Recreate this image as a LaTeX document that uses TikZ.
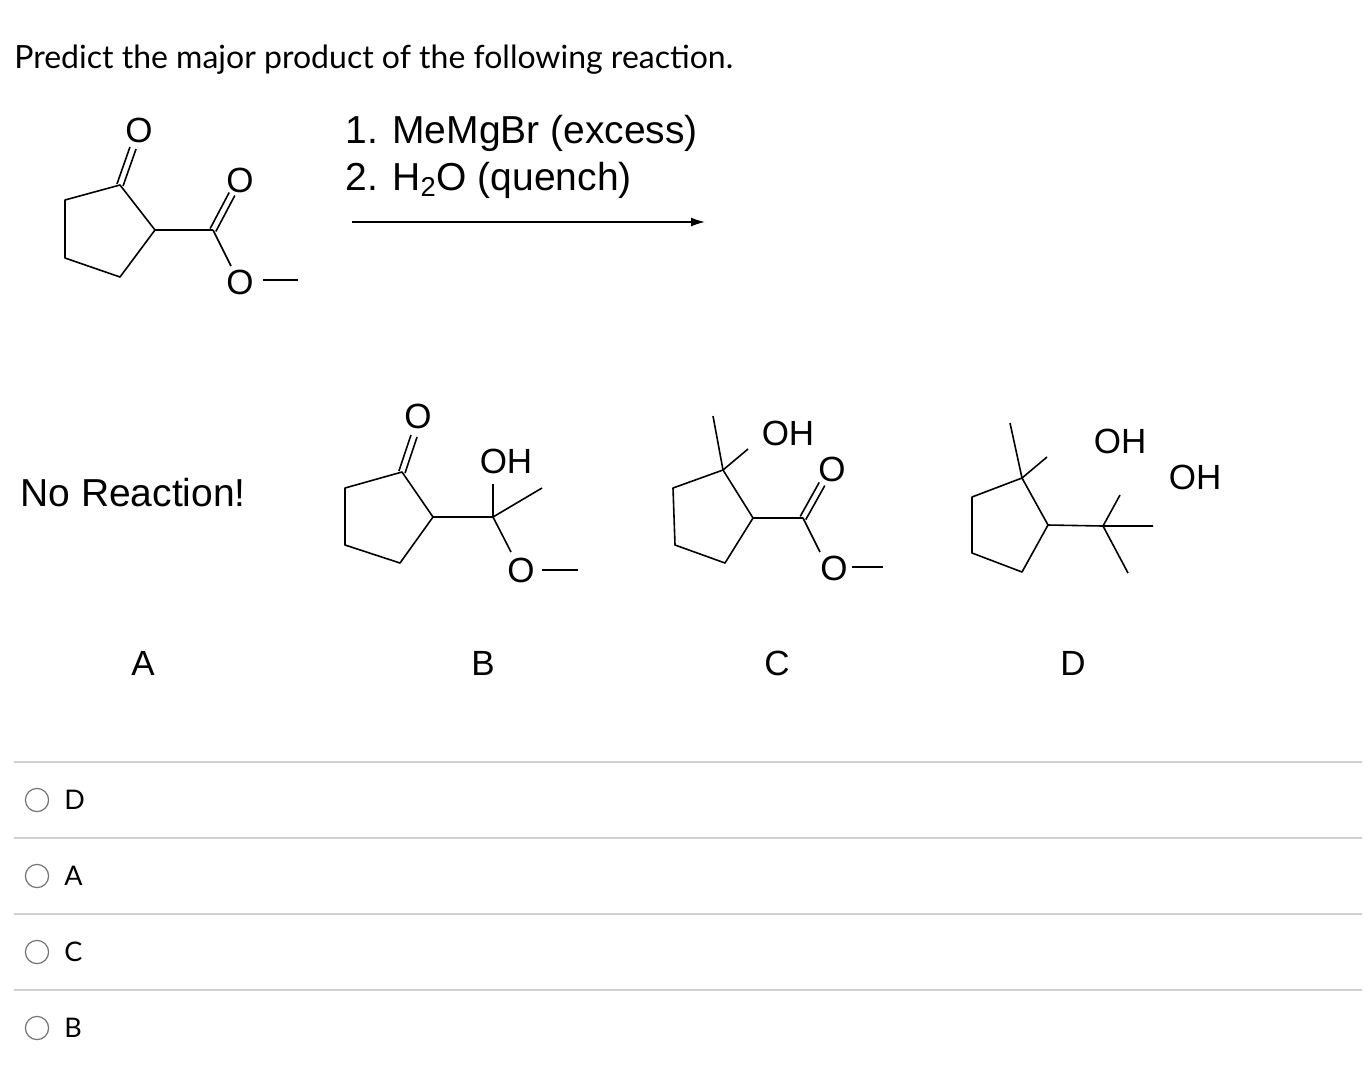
\documentclass[tikz,border=0pt]{standalone}
\usepackage{fontspec}
\setmainfont{Lato}
\newfontfamily\chem{Liberation Sans}
\usetikzlibrary{calc,arrows.meta}
\newcommand{\dbd}[2]{\draw ($(#1)!1.6pt!90:(#2)$) -- ($(#2)!1.6pt!-90:(#1)$); \draw ($(#1)!1.6pt!-90:(#2)$) -- ($(#2)!1.6pt!90:(#1)$);}
\tikzset{bond/.style={line width=0.8pt,line join=round},
 atom/.style={font=\chem\fontsize{17.5}{20}\selectfont,inner sep=0pt},
 lbl/.style={font=\chem\fontsize{19.5}{22}\selectfont,inner sep=0pt,anchor=base west},
 opt/.style={font=\fontsize{13.5}{15}\selectfont,inner sep=0pt,anchor=base west},
 sep/.style={draw=black!18,line width=0.6pt}}
\begin{document}
\begin{tikzpicture}[x=0.5pt,y=-0.5pt]
\useasboundingbox (0,0) rectangle (1368,1082);
\node[anchor=base west,inner sep=0pt,font=\fontsize{16}{18}\selectfont] (title) at (14,68) {Predict the major product of the following reaction.};
% reactant
\begin{scope}[bond]
\draw (120,185) -- (65,200) -- (65,258) -- (120,277) -- (155,230) -- cycle;
\draw (155,230) -- (213,230);
\draw (213,230) -- (231,266);
\draw (263,280) -- (298,280);
\coordinate (a1) at (120,185); \coordinate (a2) at (133,148);
\coordinate (b1) at (213,230); \coordinate (b2) at (232,194);
\dbd{a1}{a2} \dbd{b1}{b2}
\end{scope}
\node[atom] (ro1) at (139,130) {O};
\node[atom] (ro2) at (240,180) {O};
\node[atom] (ro3) at (240,282) {O};
% reagents
\node[lbl] (r1) at (345,143) {1. MeMgBr (excess)};
\node[lbl] (r2) at (345,190) {2. H\textsubscript{2}O (quench)};
\coordinate (arS) at (352,222); \coordinate (arE) at (705,222);
\draw[line width=0.75pt,-{Latex[length=7pt,width=4.5pt]}] (arS) -- (arE);
% A
\node[lbl,font=\chem\fontsize{19.5}{22}\selectfont] (nr) at (20,506) {No Reaction!};
% B
\begin{scope}[bond]
\draw (402,472) -- (345,488) -- (345,545) -- (400,563) -- (433,517) -- cycle;
\draw (433,517) -- (493,517) -- (542,488);
\draw (493,517) -- (493,484);
\draw (493,517) -- (511,552);
\draw (542,570) -- (578,570);
\coordinate (c1) at (402,472); \coordinate (c2) at (414,436);
\dbd{c1}{c2}
\end{scope}
\node[atom] (bo1) at (418,416) {O};
\node[atom] (boh) at (506,461) {OH};
\node[atom] (bo2) at (521,570) {O};
% C
\begin{scope}[bond]
\draw (723,470) -- (673,488) -- (675,545) -- (725,563) -- (753,518) -- cycle;
\draw (723,470) -- (713,416);
\draw (723,470) -- (748,449);
\draw (753,518) -- (803,518) -- (820,552);
\draw (852,567) -- (883,567);
\coordinate (d1) at (803,518); \coordinate (d2) at (822,484);
\dbd{d1}{d2}
\end{scope}
\node[atom] (coh) at (788,433) {OH};
\node[atom] (co1) at (832,469) {O};
\node[atom] (co2) at (834,568) {O};
% D
\begin{scope}[bond]
\draw (1022,478) -- (972,497) -- (972,553) -- (1022,572) -- (1048,525) -- cycle;
\draw (1022,478) -- (1010,423);
\draw (1022,478) -- (1047,457);
\draw (1048,525) -- (1103,526) -- (1153,526);
\draw (1103,526) -- (1128,573);
\draw (1103,526) -- (1120,495);
\end{scope}
\node[atom] (doh1) at (1120,441) {OH};
\node[atom] (doh2) at (1195,477) {OH};
% labels
\node[atom] (la) at (143,663) {A};
\node[atom] (lb) at (483,663) {B};
\node[atom] (lc) at (777,663) {C};
\node[atom] (ld) at (1073,663) {D};
% options
\foreach \y/\t [count=\i] in {800/D,876/A,952/C,1028/B}{
  \draw[black!55,line width=0.6pt] (37,\y) circle[radius=5.8pt];
  \node[opt] (o\i) at (64,\y+9) {\t};
}
\foreach \y in {762,838,914,990}{\draw[sep] (14,\y) -- (1362,\y);}
\end{tikzpicture}
\end{document}
